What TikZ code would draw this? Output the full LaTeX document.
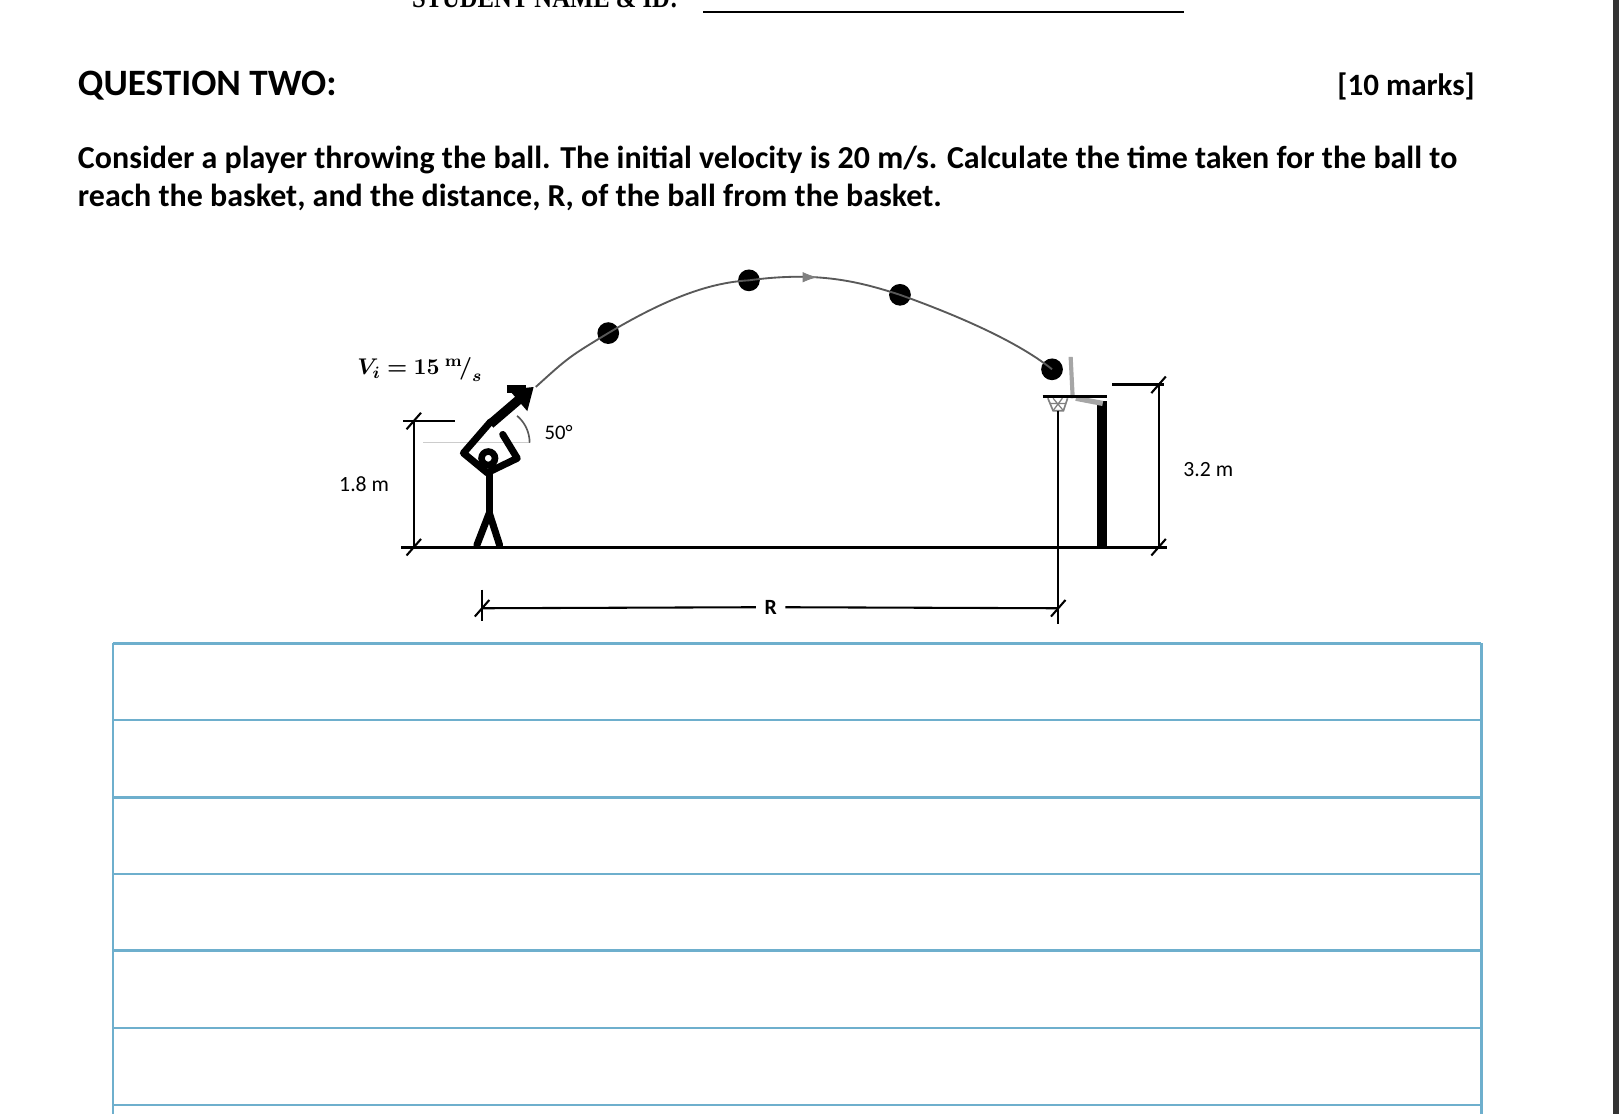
\documentclass[tikz,border=0pt]{standalone}
\usepackage{amsmath}
\usepackage{bm}
\usepackage{fontspec}
\setmainfont{Carlito}
\newfontfamily\serifb{Liberation Serif}
\usetikzlibrary{arrows.meta}
\definecolor{tbl}{RGB}{110,175,205}
\begin{document}
\begin{tikzpicture}[x=0.5pt,y=-0.5pt,
  dim/.style={line width=1pt},
  tick/.style={line width=1pt},
  ball/.style={circle,fill=black,inner sep=0pt,minimum size=10.5pt},
  txt/.style={inner sep=0pt,anchor=base west,font=\bfseries},
  fig/.style={line width=3.4pt,line cap=round,line join=round}]
\useasboundingbox (0,0) rectangle (1568,1077);
\fill[white] (0,0) rectangle (1568,1077);
% header
\node[inner sep=0pt,anchor=base west,font=\serifb\bfseries\fontsize{14}{14}\selectfont,xscale=0.85] (sn) at (398,7) {STUDENT NAME \& ID:};
\coordinate (u1) at (680,12); \coordinate (u2) at (1145,12);
\draw[line width=1pt] (u1) -- (u2);
\draw[line width=3pt,black!80] (1562,0) -- (1562,1077);
\node[txt,font=\bfseries\fontsize{18}{18}\selectfont] (q) at (75,92) {QUESTION TWO:};
\node[txt,anchor=base east,font=\bfseries\fontsize{15}{15}\selectfont] (m) at (1426,92) {[10 marks]};
\node[txt,font=\bfseries\fontsize{15.45}{15.45}\selectfont] (l1) at (75,163) {Consider a player throwing the ball. The initial velocity is 20 m/s. Calculate the time taken for the ball to};
\node[txt,font=\bfseries\fontsize{15.45}{15.45}\selectfont] (l2) at (75,200) {reach the basket, and the distance, R, of the ball from the basket.};
% ground
\coordinate (g1) at (388,529); \coordinate (g2) at (1128,529);
\draw[line width=1.4pt] (g1) -- (g2);
% left dimension 1.8 m
\coordinate (d1a) at (400,407); \coordinate (d1b) at (400,529);
\draw[dim] (d1a) -- (d1b);
\draw[dim] (390,407) -- (440,407);
\draw[tick] (393,415) -- (407,399); \draw[tick] (393,537) -- (407,521);
\node[inner sep=0pt,font=\fontsize{10.5}{10.5}\selectfont] (h1) at (352,468) {1.8 m};
% player
\draw[line width=0.6pt,gray!40] (409,428) -- (512,428);
\draw[line width=0.8pt,gray!70!black] (512,428) arc (0:-50:34);
\draw[fig] (473,457) -- (473,496);
\draw[fig] (473,496) -- (461,527); \draw[fig] (473,496) -- (483,527);
\draw[line width=3.2pt] (472,443) circle (6.5);
\draw[fig] (474,408) -- (448,438) -- (471,457) -- (500,443) -- (486,420);
\draw[line width=4.5pt,-{Triangle[length=10pt,width=13pt]}] (474,410) -- (516,374);
\draw[line width=4pt] (490,376) -- (508,376);
\node[inner sep=0pt,font=\fontsize{10}{10}\selectfont] (ang) at (540,418) {50°};
\node[inner sep=0pt,font=\fontsize{11}{11}\selectfont,anchor=base west] (vi) at (345,362) {$\bm{V_i=15\ {}^{\mathbf{m}}\!/_{s}}$};
% trajectory
\node[ball] (b1) at (588,322) {};
\node[ball] (b2) at (724,271) {};
\node[ball] (b3) at (870,285) {};
\node[ball] (b4) at (1017,357) {};
\coordinate (t0) at (518,374);
\draw[line width=0.9pt,gray!70!black] (t0) .. controls (550,345) .. (b1.center)
  .. controls (650,285) and (690,273) .. (b2.center)
  .. controls (790,262) and (830,272) .. (b3.center)
  .. controls (940,310) and (990,335) .. (b4.center);
\draw[gray,-{Latex[length=7pt,width=5pt]}] (765,268) -- (790,268);
% basket
\draw[line width=5pt] (1065,388) -- (1065,529);
\draw[line width=2pt,gray!70] (1035,345) -- (1037,385);
\draw[line width=2.5pt,gray!70] (1040,385) -- (1066,390);
\draw[line width=1.5pt] (1008,383) -- (1070,383);
\draw[gray,line width=0.8pt] (1013,385) -- (1018,397) -- (1028,397) -- (1032,385);
\draw[gray,line width=0.6pt] (1015,390) -- (1030,390) (1018,385)--(1028,397) (1027,385)--(1018,397);
% right dimension 3.2 m
\draw[line width=1.5pt] (1075,372) -- (1125,372);
\draw[dim] (1120,372) -- (1120,529);
\draw[tick] (1113,380) -- (1127,364); \draw[tick] (1113,537) -- (1127,521);
\node[inner sep=0pt,font=\fontsize{10.5}{10.5}\selectfont] (h2) at (1168,454) {3.2 m};
% R dimension
\draw[dim] (466,570) -- (466,600);
\draw[dim] (1023,397) -- (1023,603);
\node[inner sep=4pt,font=\bfseries\fontsize{10.5}{10.5}\selectfont] (R) at (745,587) {R};
\draw[dim] (466,588) -- (R.west);
\draw[dim] (R.east) -- (1023,588);
\draw[tick] (459,596) -- (473,580); \draw[tick] (1016,596) -- (1030,580);
% table
\foreach \yy in {622,696,771,845,919,994,1068} \draw[tbl,line width=1.2pt] (109,\yy) -- (1432,\yy);
\draw[tbl,line width=1.2pt] (109,622) -- (109,1077);
\draw[tbl,line width=1.2pt] (1432,622) -- (1432,1077);
\end{tikzpicture}
\end{document}
